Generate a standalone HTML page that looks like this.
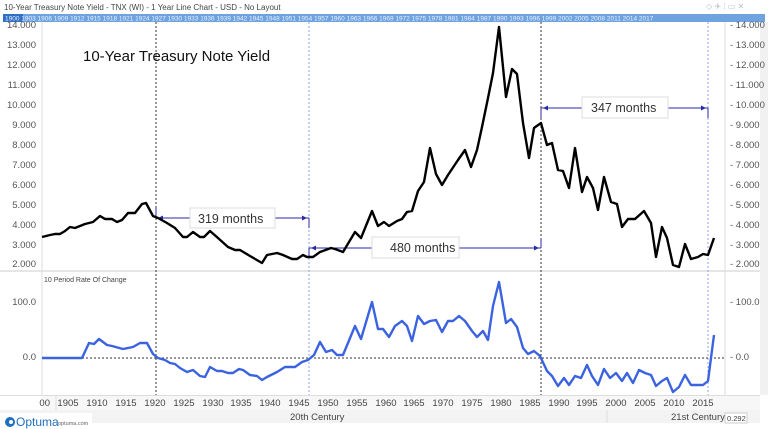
<!DOCTYPE html>
<html><head><meta charset="utf-8"><style>
html,body{margin:0;padding:0;background:#fff;}
svg{display:block;font-family:"Liberation Sans",sans-serif;}
</style></head><body>
<svg width="768" height="429" viewBox="0 0 768 429" xmlns="http://www.w3.org/2000/svg">
<rect width="768" height="429" fill="#fff"/>
<text x="4" y="10" font-size="8" fill="#444">10-Year Treasury Note Yield - TNX (WI) - 1 Year Line Chart - USD - No Layout</text>
<text x="706" y="9" font-size="8" fill="#bbb">◇ ✈ ⁞ ▭ ✕</text>
<rect x="3" y="14" width="762" height="8" fill="#6fa3df"/>
<rect x="3" y="14" width="20" height="8" fill="#2f6fc4"/>
<g font-size="6.5" fill="#e8f0fb">
<text x="5" y="20.5">1900 1903 1906 1909 1912 1915 1918 1921 1924 1927 1930 1933 1936 1939 1942 1945 1948 1951 1954 1957 1960 1963 1966 1969 1972 1975 1978 1981 1984 1987 1990 1993 1996 1999 2002 2005 2008 2011 2014 2017</text>
</g>
<line x1="42" y1="22" x2="42" y2="395" stroke="#ddd"/>
<line x1="725" y1="22" x2="725" y2="395" stroke="#ddd"/>
<line x1="0" y1="271" x2="760" y2="271" stroke="#ddd" stroke-width="1.5"/>
<rect x="760" y="22" width="8" height="373" fill="#f1f1f1"/>
<rect x="0" y="395" width="760" height="1" fill="#ddd"/>
<g font-size="9.5" fill="#555">
<g text-anchor="end">
<text x="36" y="28">14.000</text><text x="36" y="48">13.000</text><text x="36" y="68">12.000</text><text x="36" y="88">11.000</text><text x="36" y="108">10.000</text><text x="36" y="128">9.000</text><text x="36" y="148">8.000</text><text x="36" y="168">7.000</text><text x="36" y="188">6.000</text><text x="36" y="208">5.000</text><text x="36" y="228">4.000</text><text x="36" y="248">3.000</text><text x="36" y="267">2.000</text>
<text x="36" y="305">100.0</text><text x="36" y="360">0.0</text>
</g>
<text x="730" y="28">- 14.000</text><text x="730" y="48">- 13.000</text><text x="730" y="68">- 12.000</text><text x="730" y="88">- 11.000</text><text x="730" y="108">- 10.000</text><text x="730" y="128">- 9.000</text><text x="730" y="148">- 8.000</text><text x="730" y="168">- 7.000</text><text x="730" y="188">- 6.000</text><text x="730" y="208">- 5.000</text><text x="730" y="228">- 4.000</text><text x="730" y="248">- 3.000</text><text x="730" y="267">- 2.000</text>
<text x="730" y="305">- 100.0</text><text x="730" y="360">- 0.0</text>
</g>
<text x="44" y="282" font-size="7" fill="#444">10 Period Rate Of Change</text>
<text x="83" y="61" font-size="15" fill="#111">10-Year Treasury Note Yield</text>
<line x1="156" y1="22" x2="156" y2="395" stroke="#333" stroke-dasharray="2,2"/>
<line x1="309" y1="22" x2="309" y2="395" stroke="#8aa6f0" stroke-dasharray="2,2"/>
<line x1="541" y1="22" x2="541" y2="395" stroke="#333" stroke-dasharray="2,2"/>
<line x1="708" y1="22" x2="708" y2="395" stroke="#8aa6f0" stroke-dasharray="2,2"/>
<line x1="42" y1="358" x2="725" y2="358" stroke="#333" stroke-dasharray="2,2"/>
<g stroke="#2a2aa8" fill="none" stroke-width="1">
<line x1="156" y1="218" x2="309" y2="218"/><line x1="156" y1="208" x2="156" y2="218"/><line x1="309" y1="218" x2="309" y2="228"/>
<line x1="309" y1="248" x2="541" y2="248"/><line x1="309" y1="248" x2="309" y2="258"/><line x1="541" y1="238" x2="541" y2="248"/>
<line x1="541" y1="108" x2="708" y2="108"/><line x1="541" y1="108" x2="541" y2="118"/><line x1="708" y1="108" x2="708" y2="118"/>
</g>
<g fill="#2a2aa8">
<path d="M158,218 l5,-2.5 v5z"/><path d="M307,218 l-5,-2.5 v5z"/>
<path d="M311,248 l5,-2.5 v5z"/><path d="M539,248 l-5,-2.5 v5z"/>
<path d="M543,108 l5,-2.5 v5z"/><path d="M706,108 l-5,-2.5 v5z"/>
</g>
<g font-size="12.5" fill="#333">
<rect x="190" y="208" width="85" height="20" fill="#fff" stroke="#ddd"/><text x="198" y="223">319 months</text>
<rect x="372" y="237" width="87" height="21" fill="#fff" stroke="#ddd"/><text x="390" y="252">480 months</text>
<rect x="582" y="97" width="86" height="21" fill="#fff" stroke="#ddd"/><text x="591" y="112">347 months</text>
</g>
<polyline fill="none" stroke="#000" stroke-width="2.4" stroke-linejoin="round" points="42,237 50,235 55,234 60,234 65,231 70,227 75,228 80,226 85,224 93,222 100,216 105,219 112,219 117,222 122,220 128,213 135,213 142,204 146,203 153,216 158,218 167,223 175,228 183,237 187,237 193,232 200,237 204,237 210,231 218,238 228,247 235,250 240,250 250,256 262,263 267,255 277,253 283,255 292,259 297,259 303,255 307,257 313,257 320,252 331,248 335,249 343,252 355,232 361,238 372,211 378,226 384,222 389,226 397,221 402,219 407,212 412,211 418,191 424,182 430,148 436,174 442,185 448,175 458,160 465,150 471,167 477,150 482,127 488,98 493,73 499,27 506,97 512,69 517,74 523,123 529,158 534,128 541,123 547,145 552,143 558,170 563,171 569,188 575,148 582,192 587,177 593,188 598,210 604,177 611,202 617,204 622,227 628,219 635,219 644,211 651,223 656,257 662,227 667,238 673,265 679,267 685,244 691,259 698,257 703,254 708,255 714,238"/>
<polyline fill="none" stroke="#3b63e0" stroke-width="2.4" stroke-linejoin="round" points="42,358 82,358 89,343 94,344 99,339 107,345 112,346 123,349 133,347 140,343 147,343 153,354 158,358 165,360 170,363 175,364 180,368 187,372 193,370 200,376 205,377 210,367 217,371 222,371 228,373 233,373 239,369 243,370 250,375 257,376 262,380 267,377 277,372 285,367 295,367 302,362 308,360 314,355 320,342 326,352 332,350 337,355 343,355 355,326 361,339 372,302 378,329 383,329 389,337 395,326 402,321 407,326 412,341 418,316 424,324 430,321 436,320 442,332 448,321 453,321 459,316 465,321 472,331 477,337 483,331 488,340 493,306 499,282 506,323 511,319 517,327 523,348 528,354 534,351 540,356 547,371 552,376 558,386 564,378 569,385 575,376 581,378 587,365 592,376 598,385 604,369 610,378 616,373 622,381 627,373 633,383 639,370 645,373 651,375 656,386 662,381 667,378 673,392 679,387 685,375 691,385 703,385 708,381 714,335"/>
<rect x="0" y="396" width="760" height="14" fill="#f7f7f7"/>
<g stroke="#ddd"><line x1="28" y1="396" x2="28" y2="410"/><line x1="56" y1="396" x2="56" y2="410"/></g>
<g font-size="9.5" fill="#444" text-anchor="middle">
<text x="68" y="406">1905</text><text x="97" y="406">1910</text><text x="126" y="406">1915</text><text x="155" y="406">1920</text><text x="184" y="406">1925</text><text x="213" y="406">1930</text><text x="241" y="406">1935</text><text x="270" y="406">1940</text><text x="299" y="406">1945</text><text x="328" y="406">1950</text><text x="357" y="406">1955</text><text x="386" y="406">1960</text><text x="414" y="406">1965</text><text x="443" y="406">1970</text><text x="472" y="406">1975</text><text x="501" y="406">1980</text><text x="530" y="406">1985</text><text x="559" y="406">1990</text><text x="587" y="406">1995</text><text x="616" y="406">2000</text><text x="645" y="406">2005</text><text x="674" y="406">2010</text><text x="703" y="406">2015</text>
</g>
<rect x="0" y="396" width="42" height="14" fill="#fff"/>
<text x="50" y="406" font-size="9.5" fill="#444" text-anchor="end">00</text>
<rect x="0" y="410" width="760" height="13" fill="#f3f3f3"/>
<line x1="607" y1="410" x2="607" y2="423" stroke="#ddd"/>
<text x="290" y="420" font-size="9.5" fill="#444">20th Century</text>
<text x="671" y="420" font-size="9.5" fill="#444">21st Century</text>
<rect x="725" y="413" width="22" height="10" fill="#fff" stroke="#ccc"/>
<text x="727" y="421" font-size="7.5" fill="#444">0.292</text>
<rect x="0" y="413" width="92" height="16" fill="#fff"/>
<circle cx="10" cy="422" r="5" fill="#1e6fbf"/><circle cx="11" cy="422" r="2" fill="#fff"/>
<text x="16" y="426" font-size="12" fill="#1e6fbf">Optuma</text>
<text x="58" y="425" font-size="5.5" fill="#666">optuma.com</text>
</svg>
</body></html>
